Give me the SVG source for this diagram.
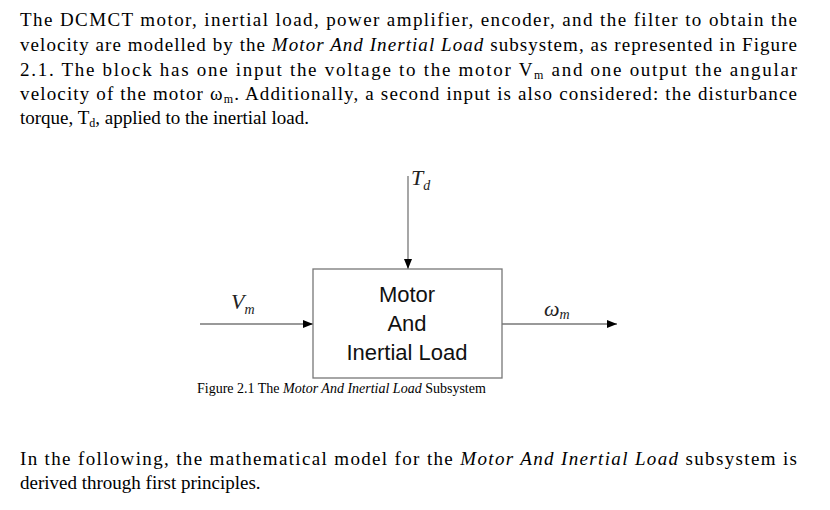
<svg xmlns="http://www.w3.org/2000/svg" width="830" height="510" viewBox="0 0 830 510">
<style>
.p{font-family:"Liberation Serif",serif;font-size:19px;fill:#000}
.s{font-family:"Liberation Serif",serif;font-size:12px}
.c{font-family:"Liberation Serif",serif;font-size:14px;fill:#000}
.b{font-family:"Liberation Sans",sans-serif;font-size:22px;fill:#111;text-anchor:middle}
.v{font-family:"Liberation Serif",serif;font-style:italic;font-size:22px;fill:#222}
.w{stroke:#777;stroke-width:1.3;fill:none}
</style>
<defs><marker id="a" markerWidth="10" markerHeight="8" refX="10" refY="4" orient="auto" markerUnits="userSpaceOnUse"><path d="M0,0L10,4L0,8z" fill="#000"/></marker></defs>
<rect width="830" height="510" fill="#fff"/>
<text class="p" x="20" y="26" textLength="777" lengthAdjust="spacing">The DCMCT motor, inertial load, power amplifier, encoder, and the filter to obtain the</text>
<text class="p" x="20" y="51" textLength="777" lengthAdjust="spacing">velocity are modelled by the <tspan font-style="italic">Motor And Inertial Load</tspan> subsystem, as represented in Figure</text>
<text class="p" x="20" y="76" textLength="777" lengthAdjust="spacing">2.1. The block has one input the voltage to the motor V<tspan class="s" dy="3">m</tspan><tspan dy="-3"> and one output the angular</tspan></text>
<text class="p" x="20" y="100" textLength="777" lengthAdjust="spacing">velocity of the motor ω<tspan class="s" dy="3">m</tspan><tspan dy="-3">. Additionally, a second input is also considered: the disturbance</tspan></text>
<text class="p" x="20" y="124">torque, T<tspan class="s" dy="3">d</tspan><tspan dy="-3">, applied to the inertial load.</tspan></text>
<g id="connectors">
<line class="w" x1="408" y1="176" x2="408" y2="269" marker-end="url(#a)"/>
<line class="w" x1="200" y1="324" x2="313" y2="324" marker-end="url(#a)"/>
<line class="w" x1="502" y1="324" x2="617" y2="324" marker-end="url(#a)"/>
</g>
<g id="block"><rect x="313" y="269" width="189" height="109" fill="#fff" stroke="#777" stroke-width="1.3"/>
<text class="b" x="407" y="302">Motor</text><text class="b" x="407" y="331">And</text><text class="b" x="407" y="360">Inertial Load</text></g>
<g id="Td"><text class="v" x="411" y="185">T<tspan font-size="14" dy="5">d</tspan></text></g>
<g id="Vm"><text class="v" x="231" y="309">V<tspan font-size="14" dy="5">m</tspan></text></g>
<g id="wm"><text class="v" x="544" y="316">ω<tspan font-size="14" dy="3">m</tspan></text></g>
<text class="c" x="197" y="393">Figure 2.1 The <tspan font-style="italic">Motor And Inertial Load</tspan> Subsystem</text>
<text class="p" x="20" y="465" textLength="777" lengthAdjust="spacing">In the following, the mathematical model for the <tspan font-style="italic">Motor And Inertial Load</tspan> subsystem is</text>
<text class="p" x="20" y="489">derived through first principles.</text>
</svg>
